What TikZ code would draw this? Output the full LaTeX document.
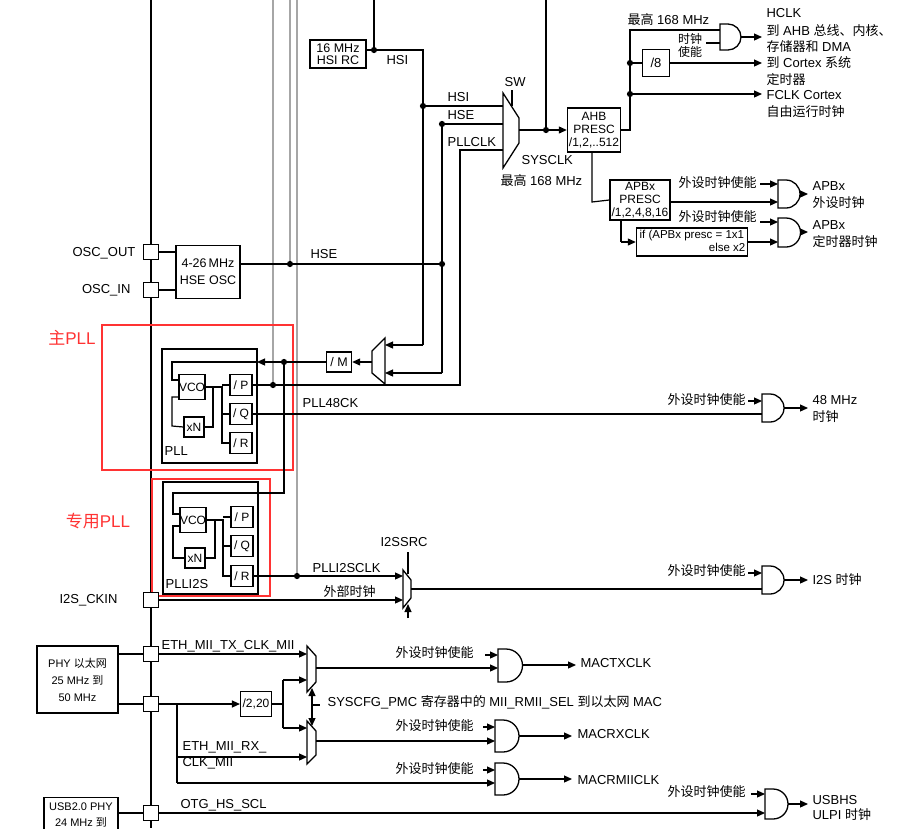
\documentclass[tikz,border=0pt]{standalone}
\usepackage{fontspec}
\setmainfont{Liberation Sans}
\newfontfamily\cjk{Noto Sans CJK SC}
\newcommand{\zh}[1]{{\cjk #1}}
\usetikzlibrary{arrows.meta}
\begin{document}
\begin{tikzpicture}[x=1pt,y=-1pt,line width=1.2pt,
  ar/.style={-{Triangle[length=8pt,width=7pt]}},
  box/.style={draw,line width=1.4pt,inner sep=0pt,align=center,font=\fontsize{12}{13}\selectfont},
  lab/.style={inner sep=0pt,font=\fontsize{13}{14}\selectfont,anchor=west},
  gr/.style={draw=gray!70,line width=2pt},
  pad/.style={draw,fill=white,minimum size=15pt,inner sep=0pt,line width=1.1pt},
  dot/.style={circle,fill,inner sep=2.2pt},
  redl/.style={inner sep=0pt,text=red!80,font=\fontsize{17}{18}\selectfont}]
\useasboundingbox (0,0) rectangle (908,828);
\newcommand{\andg}[3]{\draw[line width=1.3pt] (#1,#2) -- ({#1+8},#2) arc[start angle=-90,end angle=90,radius={(#3-#2)/2}] -- (#1,#3) -- cycle;}
% bus lines
\draw[line width=2.4pt] (151,0) -- (151,828);
\draw[gr] (273,0) -- (273,386);
\draw[gr] (290,0) -- (290,264);
\draw[gr] (297,0) -- (297,577);
% top section
\node[box,minimum width=56pt,minimum height=28pt,font=\fontsize{12.5}{12.5}\selectfont] (hsirc) at (338,54) {16 MHz\\HSI RC};
\draw (374,0) -- (374,50);
\draw (366,50) -- (423,50) -- (423,345);
\node[dot] at (374,50) {};
\node[lab] at (386,60) {HSI};
\draw[ar] (423,345) -- (385,345);
\draw (442,264) -- (442,373);
\draw[ar] (442,373) -- (385,373);
\draw (423,106) -- (503,106); \node[dot] at (423,106) {};
\draw (442,124) -- (503,124) ; \node[dot] at (442,124) {};
\draw (442,124) -- (442,264);
\draw (460,386) -- (460,150) -- (503,150);
\node[lab] at (447,97) {HSI};
\node[lab] at (447,115) {HSE};
\node[lab] at (447,142) {PLLCLK};
\draw[line width=1.3pt] (503,93) -- (519,118) -- (519,143) -- (503,168) -- cycle;
\draw (512,106) -- (512,90);
\node[lab] at (504,82) {SW};
\node[box,minimum width=53pt,minimum height=44pt] (ahb) at (594,130) {AHB\\ PRESC\\ /1,2,..512};
\draw[ar] (519,130) -- (ahb.west);
\draw (546,0) -- (546,130); \node[dot] at (546,130) {};
\node[lab] at (521,160) {SYSCLK};
\node[lab] at (500,181) {\zh{最高} 168 MHz};
\draw (ahb.east) -- (630,130) -- (630,30) -- (720,30);
\node[lab] at (627,20) {\zh{最高} 168 MHz};
\andg{720}{24}{50}
\node[inner sep=0pt,align=center,font=\fontsize{12}{13}\selectfont\cjk] at (690,45) {时钟\\使能};
\draw (706,43) -- (720,43);
\draw[ar] (741,37) -- (762,37);
\node[box,minimum width=27pt,minimum height=27pt] (d8) at (656,63) {\fontsize{13}{14}\selectfont/8};
\draw (630,63) -- (d8.west); \node[dot] at (630,63) {};
\draw[ar] (d8.east) -- (762,63);
\draw[ar] (630,94) -- (762,94); \node[dot] at (630,94) {};
\node[lab] at (766,13) {HCLK};
\node[lab] at (766,31) {\zh{到} AHB \zh{总线、内核、}};
\node[lab] at (766,47) {\zh{存储器和} DMA};
\node[lab] at (766,63) {\zh{到} Cortex \zh{系统}};
\node[lab] at (766,80) {\zh{定时器}};
\node[lab] at (766,95) {FCLK Cortex};
\node[lab] at (766,112) {\zh{自由运行时钟}};
% APB
\node[box,minimum width=60pt,minimum height=40pt] (apb) at (640,200) {APBx\\PRESC\\/1,2,4,8,16};
\draw (592,152) -- (592,202) -- (apb.west);
\node[box,minimum width=111pt,minimum height=28pt] (ifb) at (692,242) {};
\node[inner sep=0pt,font=\fontsize{11.5}{12.5}\selectfont,anchor=north west] at (639,230) {if (APBx presc = 1x1};
\node[inner sep=0pt,font=\fontsize{11.5}{12.5}\selectfont,anchor=north east] at (746,243) {else x2};
\draw (621,220) -- (621,242);
\draw[ar] (621,242) -- (ifb.west);
\andg{778}{180}{208}
\andg{778}{218}{247}
\node[lab] at (678,183) {\zh{外设时钟使能}};
\draw[ar] (760,184) -- (778,184);
\draw[ar] (670,202) -- (778,202);
\node[lab] at (678,217) {\zh{外设时钟使能}};
\draw[ar] (760,222) -- (778,222);
\draw[ar] (ifb.east) -- (778,242);
\draw[ar] (800,194) -- (808,194);
\draw[ar] (801,232) -- (808,232);
\node[lab] at (812,186) {APBx};
\node[lab] at (812,203) {\zh{外设时钟}};
\node[lab] at (812,225) {APBx};
\node[lab] at (812,242) {\zh{定时器时钟}};
% HSE osc
\node[pad] (oscout) at (151,252) {};
\node[pad] (oscin) at (151,290) {};
\node[lab,anchor=east] at (136,253) {OSC\_OUT};
\node[lab,anchor=east] at (131,290) {OSC\_IN};
\node[box,minimum width=64pt,minimum height=53pt,font=\fontsize{12.5}{17}\selectfont] (hse) at (208,272) {4-26\,MHz\\HSE OSC};
\draw (oscout.east) -- (176,252);
\draw (oscin.east) -- (176,290);
\draw (240,264) -- (442,264);
\node[dot] at (290,264) {}; \node[dot] at (442,264) {};
\node[lab] at (310,254) {HSE};
% main PLL
\draw[red!80,line width=2pt] (102,325) rectangle (293,470);
\node[redl] at (72,338) {\zh{主}PLL};
\node[box,minimum width=95pt,minimum height=114pt] (pll) at (209.5,406) {};
\node[lab] at (164,451) {PLL};
\node[box,minimum width=26pt,minimum height=25pt] (vco) at (192,387) {VCO};
\node[box,minimum width=20pt,minimum height=20pt] (xn) at (194,427) {xN};
\node[box,minimum width=22pt,minimum height=21pt] (p1) at (241,385) {/ P};
\node[box,minimum width=22pt,minimum height=21pt] (q1) at (241,414) {/ Q};
\node[box,minimum width=22pt,minimum height=21pt] (r1) at (241,443) {/ R};
\draw[ar] (284,362) -- (257,362);
\draw (257,362) -- (172,362) -- (172,380) -- (179,380);
\draw (179,397) -- (172,397) -- (172,426) -- (xn.west);
\draw (vco.east) -- (222,387) -- (222,443) -- (r1.west);
\draw (xn.east) -- (213,427) -- (213,387);
\draw (222,414) -- (q1.west); \draw (222,385) -- (p1.west);
\draw (p1.east) -- (460,385) -- (460,386); \node[dot] at (273,385) {};
\draw (q1.east) -- (762,414);
\node[lab] at (302,403) {PLL48CK};
\node[box,minimum width=25pt,minimum height=20pt,font=\fontsize{12.5}{13}\selectfont] (m) at (339,362) {/ M};
\draw[ar] (372,362) -- (m.east);
\draw (m.west) -- (284,362); \node[dot] at (284,362) {};
\draw[line width=1.3pt] (372,351) -- (385,338) -- (385,384) -- (372,373) -- cycle;
\andg{762}{394}{422}
\node[lab] at (667,400) {\zh{外设时钟使能}};
\draw[ar] (748,401) -- (762,401);
\draw[ar] (784,408) -- (808,408);
\node[lab] at (812,400) {48 MHz};
\node[lab] at (812,417) {\zh{时钟}};
% PLLI2S
\draw[red!80,line width=2pt] (152,479) rectangle (270,596);
\node[redl] at (98,521) {\zh{专用}PLL};
\node[box,minimum width=95pt,minimum height=112pt] (plli2s) at (210.5,538) {};
\node[lab] at (165,584) {PLLI2S};
\node[box,minimum width=26pt,minimum height=25pt] (vco2) at (193,520) {VCO};
\node[box,minimum width=20pt,minimum height=20pt] (xn2) at (195,558) {xN};
\node[box,minimum width=22pt,minimum height=21pt] (p2) at (242,517) {/ P};
\node[box,minimum width=22pt,minimum height=21pt] (q2) at (242,546) {/ Q};
\node[box,minimum width=22pt,minimum height=21pt] (r2) at (242,576) {/ R};
\draw (284,362) -- (284,493) -- (173,493) -- (173,514) -- (180,514);
\draw (180,526) -- (173,526) -- (173,558) -- (xn2.west);
\draw (vco2.east) -- (223,520) -- (223,576) -- (r2.west);
\draw (xn2.east) -- (215,558) -- (215,520);
\draw (223,546) -- (q2.west); \draw (223,517) -- (p2.west);
\draw[ar] (r2.east) -- (403,576); \node[dot] at (297,576) {};
\node[lab] at (312,568) {PLLI2SCLK};
\node[pad] (i2sck) at (151,600) {};
\node[lab,anchor=east] at (118,600) {I2S\_CKIN};
\draw[ar] (i2sck.east) -- (403,600);
\node[lab] at (323,592) {\zh{外部时钟}};
\draw[line width=1.3pt] (403,570) -- (411,580) -- (411,598) -- (403,608) -- cycle;
\draw (408,552) -- (408,574);
\node[lab] at (380,542) {I2SSRC};
\draw[ar] (408,618) -- (408,604);
\draw (411,589) -- (762,589);
\andg{762}{566}{594}
\node[lab] at (667,571) {\zh{外设时钟使能}};
\draw[ar] (748,573) -- (762,573);
\draw[ar] (784,580) -- (808,580);
\node[lab] at (812,580) {I2S \zh{时钟}};
% Ethernet
\node[box,minimum width=81pt,minimum height=67pt,line width=1.1pt,font=\fontsize{11}{17}\selectfont] (phy) at (77.5,679.5) {PHY \zh{以太网}\\25 MHz \zh{到}\\50 MHz};
\node[pad] (e1) at (151,654) {};
\node[pad] (e2) at (151,704) {};
\draw (118,654) -- (e1.west); \draw (118,704) -- (e2.west);
\draw[ar] (e1.east) -- (307,654);
\node[lab] at (161,646) {ETH\_MII\_TX\_CLK\_MII};
\node[box,minimum width=31pt,minimum height=25pt,line width=1.1pt] (d220) at (256,704) {/2,20};
\draw[ar] (e2.east) -- (d220.west);
\draw (d220.east) -- (283,704) (283,680) -- (283,728);
\draw[ar] (283,680) -- (307,680);
\draw[ar] (283,728) -- (307,728);
\draw (177,704) -- (177,783);
\draw[ar] (177,757) -- (307,757);
\node[lab] at (182,747) {ETH\_MII\_RX\_};
\node[lab] at (182,763) {CLK\_MII};
\draw[line width=1.3pt] (307,646) -- (316,656) -- (316,682) -- (307,692) -- cycle;
\draw[line width=1.3pt] (307,721) -- (316,731) -- (316,755) -- (307,764) -- cycle;
\draw[ar] (312,705) -- (312,688);
\draw[ar] (312,705) -- (312,726);
\draw (312,705) -- (320,705);
\node[lab] at (327,702) {SYSCFG\_PMC \zh{寄存器中的} MII\_RMII\_SEL \zh{到以太网} MAC};
\andg{498}{649}{682}
\draw[ar] (316,668) -- (498,668);
\node[lab] at (395,653) {\zh{外设时钟使能}};
\draw[ar] (485,655) -- (498,655);
\draw[ar] (522,665) -- (576,665);
\node[lab] at (580,663) {MACTXCLK};
\andg{495}{720}{752}
\draw[ar] (316,741) -- (495,741);
\node[lab] at (395,726) {\zh{外设时钟使能}};
\draw[ar] (519,736) -- (572,736);
\draw[ar] (483,727) -- (495,727);
\node[lab] at (577,734) {MACRXCLK};
\andg{495}{763}{795}
\draw[ar] (177,783) -- (495,783);
\node[lab] at (395,769) {\zh{外设时钟使能}};
\draw[ar] (483,770) -- (495,770);
\draw[ar] (519,779) -- (572,779);
\node[lab] at (577,780) {MACRMIICLK};
% USB
\node[box,minimum width=74pt,minimum height=34pt,line width=1.1pt,anchor=north,font=\fontsize{11}{16}\selectfont] (usb) at (81,797) {USB2.0 PHY\\24 MHz \zh{到}};
\node[pad] (u1) at (151,813) {};
\draw (118,813) -- (u1.west);
\draw[ar] (u1.east) -- (765,813);
\node[lab] at (180,805) {OTG\_HS\_SCL};
\andg{765}{789}{819}
\node[lab] at (667,792) {\zh{外设时钟使能}};
\draw[ar] (751,794) -- (765,794);
\draw[ar] (788,804) -- (808,804);
\node[lab] at (812,800) {USBHS};
\node[lab] at (812,815) {ULPI \zh{时钟}};
\end{tikzpicture}
\end{document}
